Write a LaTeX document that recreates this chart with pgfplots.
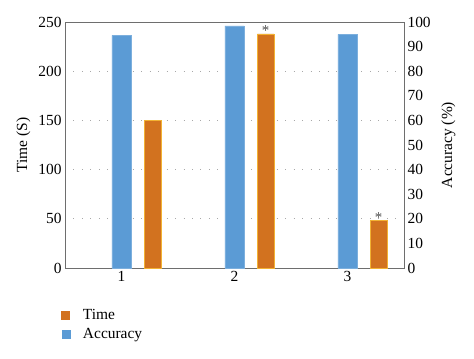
\documentclass[border=0pt]{standalone}
\usepackage{pgfplots}
\pgfplotsset{compat=1.18}
\usepackage{fontspec}
\setmainfont{Liberation Serif}
\definecolor{cblue}{HTML}{5B9BD5}
\definecolor{corange}{HTML}{D2721F}
\definecolor{cgold}{HTML}{F2B233}
\definecolor{cframe}{HTML}{6E6E6E}
\definecolor{cgrid}{HTML}{A8A8A8}
\begin{document}
\begin{tikzpicture}[x=1bp,y=1bp]
\useasboundingbox (-65,-90) rectangle (409,268);
\pgfplotsset{
  every axis/.append style={
    font=\fontsize{15.5}{18}\selectfont,
    /pgf/number format/assume math mode=true,
    scale only axis, width=339bp, height=246bp,
    at={(0,0)}, anchor=south west,
    xmin=0.5, xmax=3.5,
    axis line style={cframe, line width=0.9pt},
    major tick length=0pt,
  },
}
\begin{axis}[
  ymin=0, ymax=250,
  ytick={0,50,100,150,200,250},
  xtick={1,2,3},
  ymajorgrids,
  grid style={cgrid, line width=1pt, dash pattern=on 0.9pt off 7.6pt},
  ylabel={Time (S)},
  ylabel style={yshift=1bp},
  legend style={at={(-0.02,-0.15)}, anchor=north west, draw=none, fill=none,
    row sep=4bp, font=\fontsize{15.5}{18}\selectfont},
  legend cell align=left,
  nodes near coords,
  point meta=explicit symbolic,
  every node near coord/.append style={font=\fontsize{15}{15}\selectfont, text=black!70, yshift=-5bp},
]
\addplot[ybar, bar width=0.146, fill=corange, draw=cgold, line width=0.6pt,
  legend image code/.code={\fill[corange] (0bp,-4bp) rectangle (8bp,4bp); \path (19bp,0bp);}]
  coordinates {(1.275,150)[] (2.275,238)[*] (3.275,48)[*]};
\addlegendentry{Time}
\addlegendimage{legend image code/.code={\fill[cblue] (0bp,-4bp) rectangle (8bp,4bp); \path (19bp,0bp);}}
\addlegendentry{Accuracy}
\end{axis}
\begin{axis}[
  ymin=0, ymax=100,
  ytick={0,10,...,100},
  axis y line*=right,
  axis x line=none,
  ylabel={Accuracy (\%)},
  ylabel style={yshift=-4bp},
]
\addplot[ybar, bar width=0.17, fill=cblue, draw=cblue!80!white, line width=0.4pt]
  coordinates {(1,94.6) (2,98.4) (3,95.0)};
\end{axis}
\end{tikzpicture}
\end{document}
